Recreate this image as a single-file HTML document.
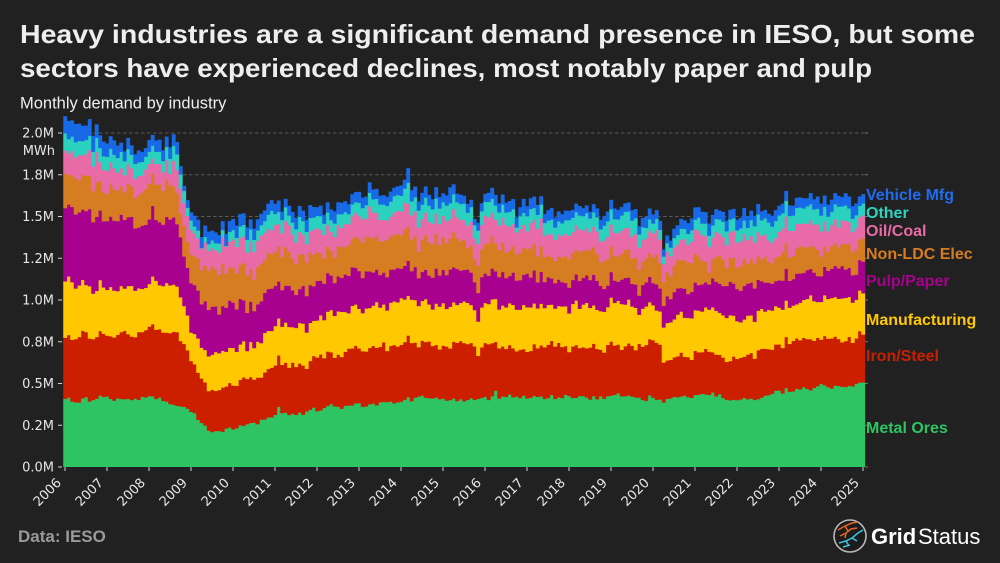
<!DOCTYPE html>
<html><head><meta charset="utf-8"><style>
html,body{margin:0;padding:0;background:#212121;width:1000px;height:563px;overflow:hidden}
svg{display:block}
.t{font-family:"Liberation Sans",Arial,sans-serif;fill:#eeeeee;font-weight:bold}
.ax{font-family:"DejaVu Sans",sans-serif;font-size:13px;fill:#e6e6e6}
.lb{font-family:"Liberation Sans",Arial,sans-serif;font-size:16px;font-weight:bold}
</style></head><body>
<svg id="s" width="1000" height="563" viewBox="0 0 1000 563" xmlns="http://www.w3.org/2000/svg">
<rect width="1000" height="563" fill="#212121"/>
<text class="t" x="20" y="43" font-size="26" textLength="955" lengthAdjust="spacingAndGlyphs">Heavy industries are a significant demand presence in IESO, but some</text>
<text class="t" x="20" y="77" font-size="26" textLength="852" lengthAdjust="spacingAndGlyphs">sectors have experienced declines, most notably paper and pulp</text>
<text x="20" y="108.5" font-family="Liberation Sans,Arial,sans-serif" font-size="16.5" fill="#eeeeee">Monthly demand by industry</text>
<g id="grid"></g>
<g id="bars"></g>
<g id="axes"></g>
<g>
<text class="lb" x="866" y="200" fill="#1f6cf0">Vehicle Mfg</text>
<text class="lb" x="866" y="218" fill="#2ed3c0">Other</text>
<text class="lb" x="866" y="236" fill="#e86aa6">Oil/Coal</text>
<text class="lb" x="866" y="259" fill="#d67d22">Non-LDC Elec</text>
<text class="lb" x="866" y="286" fill="#a8008f">Pulp/Paper</text>
<text class="lb" x="866" y="325" fill="#ffc800">Manufacturing</text>
<text class="lb" x="866" y="361" fill="#cc1f00">Iron/Steel</text>
<text class="lb" x="866" y="433" fill="#2ec464">Metal Ores</text>
</g>
<text x="18" y="542" font-family="Liberation Sans,Arial,sans-serif" font-size="17" font-weight="bold" fill="#9a9a9a">Data: IESO</text>
<g>
<circle cx="850" cy="536" r="16" fill="#1c1c1c" stroke="#b8b8b8" stroke-width="1.6"/>
<path d="M838 530 L845 526 L852 523 L858 522 M845 526 L848 531 M840 536 L846 533 L851 529 L857 528 M846 533 L845 538" stroke="#e8622a" stroke-width="1.5" fill="none"/>
<path d="M839 543 L846 541 L852 538 L858 533 L863 530 M846 541 L849 546 M852 538 L857 541 M843 547 L850 545" stroke="#3ec3e0" stroke-width="1.5" fill="none"/>
<text x="871" y="544" font-family="Liberation Sans,Arial,sans-serif" font-size="22" font-weight="bold" fill="#ffffff">Grid</text>
<text x="918" y="544" font-family="Liberation Sans,Arial,sans-serif" font-size="22" fill="#ffffff">Status</text>
</g>
</svg>
<script>
(function(){
function Y(v){return 467-v*167;}
var g="",a="";
var ticks=[[0,"0.0M"],[0.25,"0.2M"],[0.5,"0.5M"],[0.75,"0.8M"],[1,"1.0M"],[1.25,"1.2M"],[1.5,"1.5M"],[1.75,"1.8M"],[2,"2.0M"]];
ticks.forEach(function(t){
  var y=Y(t[0]);
  if(t[0]>0) g+='<line x1="63" x2="866" y1="'+y+'" y2="'+y+'" stroke="#5a5a5a" stroke-width="0.9" stroke-dasharray="3.5,2.5"/>';
  a+='<line x1="58" x2="62" y1="'+y+'" y2="'+y+'" stroke="#d0d0d0" stroke-width="1"/>';
  a+='<line x1="865" x2="868" y1="'+y+'" y2="'+y+'" stroke="#777" stroke-width="1"/>';
  a+='<text class="ax" x="54" y="'+(y+4.7)+'" text-anchor="end">'+t[1]+'</text>';
});
a+='<text class="ax" x="55" y="155" text-anchor="end">MWh</text>';
for(var yr=2006;yr<=2025;yr++){
  var x=65+(yr-2006)*42;
  a+='<line x1="'+x+'" x2="'+x+'" y1="467" y2="471" stroke="#d0d0d0" stroke-width="1"/>';
  a+='<text class="ax" text-anchor="end" transform="translate('+(x-3)+',483.5) rotate(-45)">'+yr+'</text>';
}
document.getElementById("grid").innerHTML=g;
document.getElementById("axes").innerHTML=a;

var K=[
[2006.0,[0.40,0.76,1.10,1.55,1.73,1.86,1.95,2.05]],
[2006.5,[0.40,0.77,1.08,1.52,1.70,1.83,1.92,2.01]],
[2007.0,[0.41,0.78,1.07,1.49,1.67,1.79,1.88,1.96]],
[2007.6,[0.40,0.80,1.08,1.46,1.64,1.77,1.85,1.90]],
[2008.0,[0.42,0.82,1.08,1.46,1.67,1.78,1.86,1.92]],
[2008.5,[0.38,0.80,1.07,1.46,1.69,1.80,1.88,1.95]],
[2008.72,[0.36,0.77,1.03,1.42,1.62,1.78,1.86,1.92]],
[2008.85,[0.36,0.72,0.92,1.22,1.40,1.55,1.61,1.64]],
[2009.05,[0.34,0.62,0.80,1.08,1.26,1.40,1.45,1.50]],
[2009.4,[0.22,0.46,0.66,0.94,1.16,1.30,1.34,1.40]],
[2009.7,[0.22,0.48,0.70,0.96,1.18,1.32,1.37,1.43]],
[2010.5,[0.28,0.56,0.78,1.02,1.22,1.37,1.44,1.50]],
[2011.4,[0.32,0.62,0.86,1.08,1.28,1.42,1.50,1.56]],
[2012.5,[0.36,0.68,0.92,1.14,1.32,1.45,1.52,1.58]],
[2014.0,[0.41,0.74,0.98,1.17,1.37,1.50,1.59,1.65]],
[2016.8,[0.42,0.72,0.96,1.14,1.30,1.44,1.52,1.57]],
[2019.5,[0.42,0.72,0.96,1.10,1.26,1.38,1.47,1.52]],
[2020.17,[0.42,0.74,0.96,1.10,1.26,1.40,1.46,1.52]],
[2020.25,[0.40,0.62,0.84,0.98,1.14,1.24,1.30,1.35]],
[2020.5,[0.41,0.66,0.88,1.02,1.18,1.30,1.36,1.41]],
[2021.4,[0.46,0.70,0.94,1.10,1.24,1.38,1.46,1.52]],
[2021.9,[0.40,0.66,0.90,1.08,1.22,1.36,1.44,1.50]],
[2023.0,[0.46,0.74,0.96,1.12,1.26,1.40,1.50,1.56]],
[2025.01,[0.50,0.78,1.04,1.22,1.36,1.48,1.56,1.62]]
];
function interp(t){
  for(var k=0;k<K.length-1;k++){
    if(t<=K[k+1][0]){
      var f=(t-K[k][0])/(K[k+1][0]-K[k][0]);if(f<0)f=0;
      return K[k][1].map(function(v,j){return v+(K[k+1][1][j]-v)*f;});
    }
  }
  return K[K.length-1][1].slice();
}
function mb(s){return function(){s|=0;s=s+0x6D2B79F5|0;var t=Math.imul(s^s>>>15,1|s);t=t+Math.imul(t^t>>>7,61|t)^t;return((t^t>>>14)>>>0)/4294967296;};}
var r=mb(12345);
var cols=["#2ec464","#cc1f00","#ffc800","#a8008f","#d67d22","#e86aa6","#2ad1bf","#1769e6"];
var amps=[0.014,0.022,0.022,0.02,0.022,0.018,0.01,0.01];
var ar=[0,0,0,0,0,0,0,0];
var parts=cols.map(function(){return "";});
for(var i=0;i<229;i++){
  var t=2006+i/12;
  var c=interp(t);
  var b=[c[0]];for(var j=1;j<8;j++)b.push(c[j]-c[j-1]);
  var v=[];
  for(var j=0;j<8;j++){
    ar[j]=0.45*ar[j]+(r()*2-1)*amps[j];
    v.push(b[j]+ar[j]+(r()*2-1)*amps[j]*0.5);
  }
  if(r()<0.08){var s=1+Math.floor(r()*6);v[s]-=0.03+0.035*r();}
  if(r()<0.05){var s2=Math.floor(r()*8);v[s2]+=0.03+0.03*r();}
  if(i==98){v[1]+=0.03;v[3]+=0.03;v[6]+=0.03;v[7]+=0.02;}
  var cum=0,x=63.25+i*3.5;
  for(var j=0;j<8;j++){
    if(v[j]<0.004)v[j]=0.004;
    var y0=Y(cum);cum+=v[j];var y1=Y(cum);
    var h=y0-y1+(j>0?0.6:0);
    parts[j]+='<rect x="'+x.toFixed(2)+'" y="'+y1.toFixed(2)+'" width="3.9" height="'+h.toFixed(2)+'"/>';
  }
}
var out="";
for(var j=0;j<8;j++)out+='<g fill="'+cols[j]+'">'+parts[j]+'</g>';
document.getElementById("bars").innerHTML=out;
})();
</script>
</body></html>
